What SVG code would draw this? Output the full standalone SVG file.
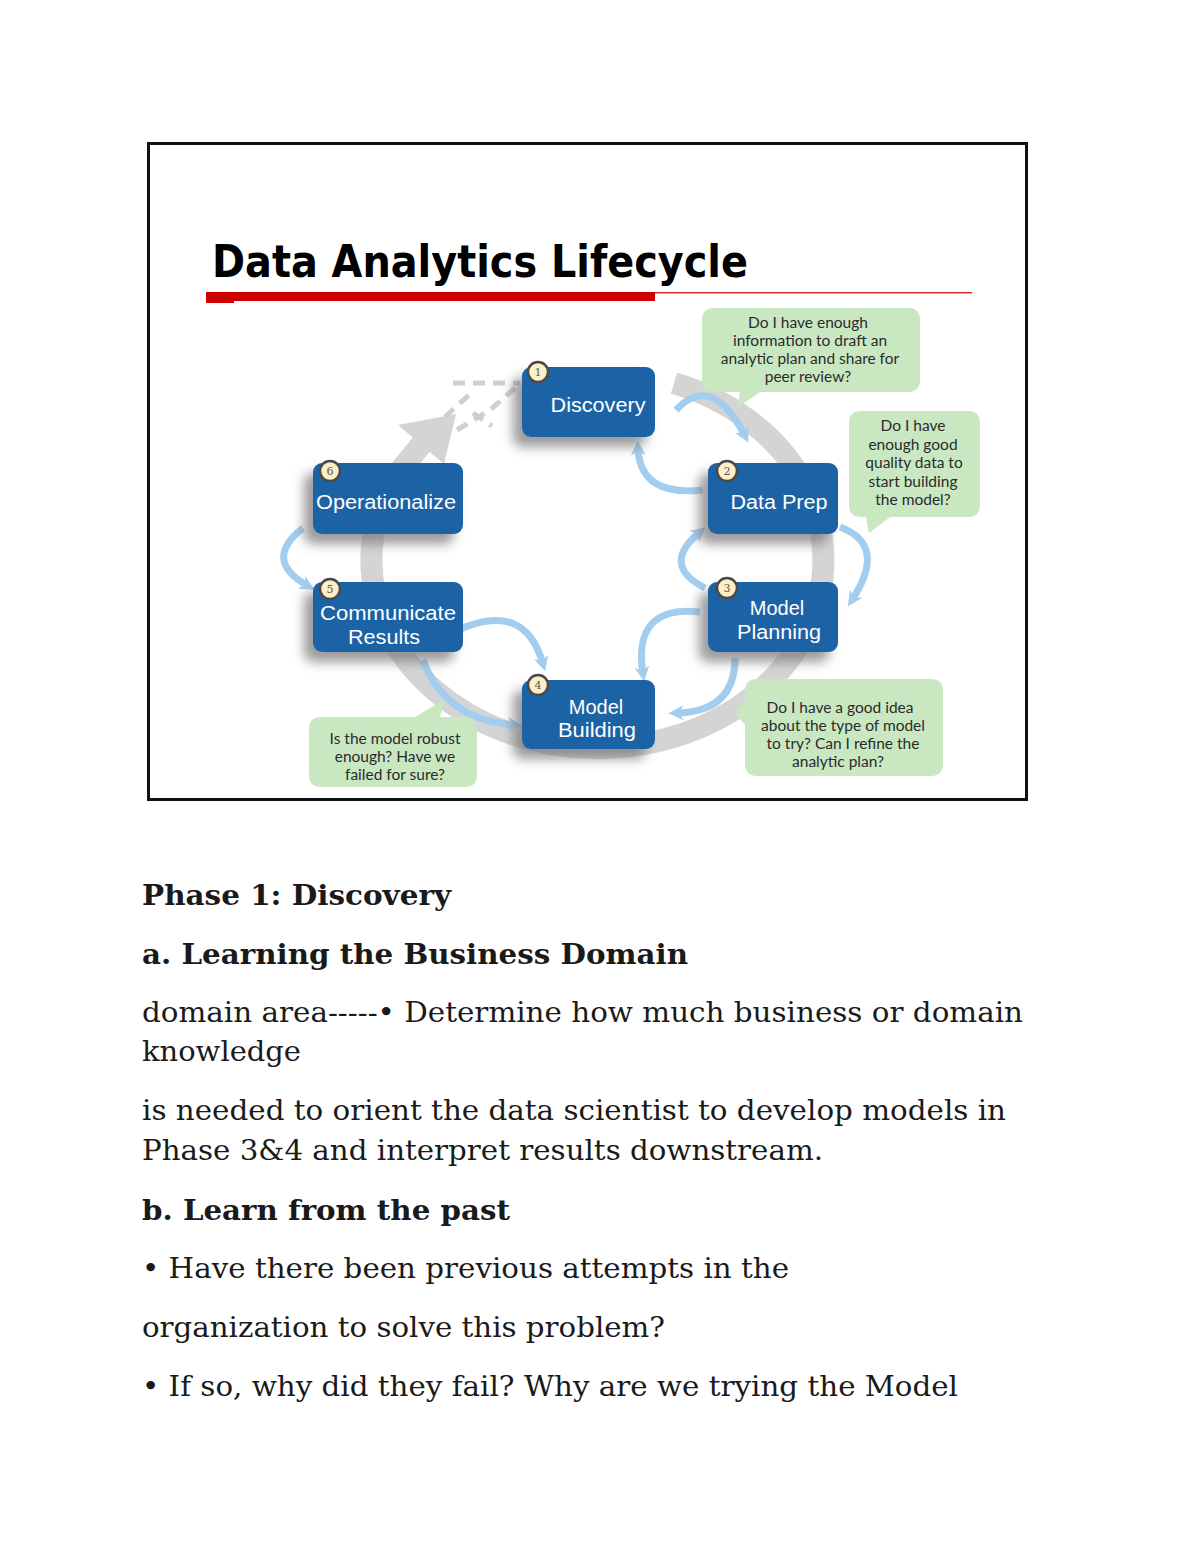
<svg xmlns="http://www.w3.org/2000/svg" width="1200" height="1553" viewBox="0 0 1200 1553">
<defs>
<filter id="sh" x="-30%" y="-30%" width="160%" height="170%">
<feDropShadow dx="-9" dy="10" stdDeviation="6" flood-color="#7a7a7a" flood-opacity="0.75"/>
</filter>
<marker id="bh" viewBox="0 0 10 10" refX="5" refY="5" markerWidth="15" markerHeight="15" markerUnits="userSpaceOnUse" orient="auto">
<path d="M0,0 L10,5 L0,10 L3,5 Z" fill="#a3cdee"/>
</marker>
<style>
.node rect{fill:#1c64a6;}
.lbl{font-family:"Liberation Sans",Arial,sans-serif;font-size:20px;fill:#ffffff;text-anchor:middle;}
.badge circle{fill:#fdefc6;stroke:#4a4a4a;stroke-width:2.5;}
.badge text{font-family:"DejaVu Serif",serif;font-size:11px;fill:#555;text-anchor:middle;}
.call path{fill:#c9e8c2;}
.ct{font-family:Lato,"Open Sans",sans-serif;font-size:15.5px;fill:#2b2b2b;text-anchor:middle;}
.blue{fill:none;stroke:#a3cdee;stroke-width:7;marker-end:url(#bh);}
.ring{fill:none;stroke:#d4d4d4;stroke-width:22;}
.dash{fill:none;stroke:#cfcfcf;stroke-width:5;stroke-dasharray:12 8;}
.body{font-family:"DejaVu Serif","Liberation Serif",serif;font-size:28px;fill:#1a1a1a;}
.bold{font-weight:bold;}
</style>
</defs>
<rect width="1200" height="1553" fill="#ffffff"/>
<rect x="148.5" y="143.5" width="878" height="656" fill="#ffffff" stroke="#111" stroke-width="3"/>
<text x="212" y="277" font-family="DejaVu Sans,Verdana,sans-serif" font-weight="bold" font-size="45" fill="#000" textLength="536" lengthAdjust="spacingAndGlyphs">Data Analytics Lifecycle</text>
<rect x="206" y="292" width="449" height="9" fill="#cc0000"/>
<rect x="206" y="301" width="28" height="2" fill="#cc0000"/>
<rect x="655" y="292" width="317" height="1.5" fill="#d43030"/>

<g id="connectors">
<path class="ring" d="M674,383 A226,188 0 1 1 394,478"/>
<path d="M394,478 L425,440" fill="none" stroke="#d4d4d4" stroke-width="22"/>
<polygon points="398,425 456,414 444,464" fill="#d4d4d4"/>
<path class="dash" d="M453,383 L520,383"/>
<path class="dash" d="M445,417 L470,394"/>
<path class="dash" d="M457,430 L490,410 L515,388"/>
<path class="dash" d="M473,413 L492,426"/>
<path class="blue" d="M676,410 Q712,372 745,436"/>
<path class="blue" d="M703,490 Q640,497 638,448"/>
<path class="blue" d="M840,527 Q888,545 852,600"/>
<path class="blue" d="M705,588 Q660,565 700,532"/>
<path class="blue" d="M735,658 Q735,712 676,713"/>
<path class="blue" d="M700,612 Q632,605 643,674"/>
<path class="blue" d="M458,630 Q525,600 543,664"/>
<path class="blue" d="M423,660 Q445,720 515,725"/>
<path class="blue" d="M303,528 Q262,560 308,586"/>
</g>

<g id="node-discovery" class="node">
<rect x="522" y="367" width="133" height="70" rx="9" filter="url(#sh)"/>
<text class="lbl" x="598" y="412" textLength="95" lengthAdjust="spacingAndGlyphs">Discovery</text>
<g class="badge"><circle cx="538" cy="372" r="10"/><text x="538" y="376">1</text></g>
</g>
<g id="node-dataprep" class="node">
<rect x="708" y="463" width="130" height="71" rx="9" filter="url(#sh)"/>
<text class="lbl" x="779" y="509" textLength="97" lengthAdjust="spacingAndGlyphs">Data Prep</text>
<g class="badge"><circle cx="727" cy="471" r="10"/><text x="727" y="475">2</text></g>
</g>
<g id="node-modelplanning" class="node">
<rect x="708" y="582" width="130" height="70" rx="9" filter="url(#sh)"/>
<text class="lbl" x="777" y="615">Model</text>
<text class="lbl" x="779" y="639" textLength="84" lengthAdjust="spacingAndGlyphs">Planning</text>
<g class="badge"><circle cx="727" cy="588" r="10"/><text x="727" y="592">3</text></g>
</g>
<g id="node-modelbuilding" class="node">
<rect x="522" y="680" width="133" height="69" rx="9" filter="url(#sh)"/>
<text class="lbl" x="596" y="714">Model</text>
<text class="lbl" x="597" y="737" textLength="78" lengthAdjust="spacingAndGlyphs">Building</text>
<g class="badge"><circle cx="538" cy="685" r="10"/><text x="538" y="689">4</text></g>
</g>
<g id="node-communicate" class="node">
<rect x="313" y="582" width="150" height="70" rx="9" filter="url(#sh)"/>
<text class="lbl" x="388" y="620" textLength="136" lengthAdjust="spacingAndGlyphs">Communicate</text>
<text class="lbl" x="384" y="644" textLength="72" lengthAdjust="spacingAndGlyphs">Results</text>
<g class="badge"><circle cx="330" cy="589" r="10"/><text x="330" y="593">5</text></g>
</g>
<g id="node-operationalize" class="node">
<rect x="313" y="463" width="150" height="71" rx="9" filter="url(#sh)"/>
<text class="lbl" x="386" y="509" textLength="140" lengthAdjust="spacingAndGlyphs">Operationalize</text>
<g class="badge"><circle cx="330" cy="471" r="10"/><text x="330" y="475">6</text></g>
</g>

<g id="callout-discovery" class="call">
<path d="M714,308 H908 Q920,308 920,320 V380 Q920,392 908,392 H760 L737,408 L740,392 H714 Q702,392 702,380 V320 Q702,308 714,308 Z"/>
<text class="ct" x="808" y="328">Do I have enough</text>
<text class="ct" x="810" y="346">information to draft an</text>
<text class="ct" x="810" y="364">analytic plan and share for</text>
<text class="ct" x="808" y="382">peer review?</text>
</g>
<g id="callout-dataprep" class="call">
<path d="M861,411 H968 Q980,411 980,423 V505 Q980,517 968,517 H890 L869,533 L866,517 H861 Q849,517 849,505 V423 Q849,411 861,411 Z"/>
<text class="ct" x="913" y="431">Do I have</text>
<text class="ct" x="913" y="450">enough good</text>
<text class="ct" x="914" y="468">quality data to</text>
<text class="ct" x="913" y="487">start building</text>
<text class="ct" x="913" y="505">the model?</text>
</g>
<g id="callout-modelplanning" class="call">
<path d="M757,679 H931 Q943,679 943,691 V764 Q943,776 931,776 H757 Q745,776 745,764 V725 L735,713 L745,700 V691 Q745,679 757,679 Z"/>
<text class="ct" x="840" y="713">Do I have a good idea</text>
<text class="ct" x="843" y="731">about the type of model</text>
<text class="ct" x="843" y="749">to try?  Can I refine the</text>
<text class="ct" x="838" y="767">analytic plan?</text>
</g>
<g id="callout-modelbuilding" class="call">
<path d="M321,717 H415 L445,699 L440,717 H465 Q477,717 477,729 V775 Q477,787 465,787 H321 Q309,787 309,775 V729 Q309,717 321,717 Z"/>
<text class="ct" x="395" y="744">Is the model robust</text>
<text class="ct" x="395" y="762">enough?  Have we</text>
<text class="ct" x="395" y="780">failed for sure?</text>
</g>

<g id="body-text">
<text class="body bold" x="142" y="905" textLength="309" lengthAdjust="spacingAndGlyphs">Phase 1: Discovery</text>
<text class="body bold" x="142" y="964" textLength="546" lengthAdjust="spacingAndGlyphs">a. Learning the Business Domain</text>
<text class="body" x="142" y="1022" textLength="881" lengthAdjust="spacingAndGlyphs">domain area-----• Determine how much business or domain</text>
<text class="body" x="142" y="1061" textLength="159" lengthAdjust="spacingAndGlyphs">knowledge</text>
<text class="body" x="142" y="1120" textLength="864" lengthAdjust="spacingAndGlyphs">is needed to orient the data scientist to develop models in</text>
<text class="body" x="142" y="1160" textLength="681" lengthAdjust="spacingAndGlyphs">Phase 3&amp;4 and interpret results downstream.</text>
<text class="body bold" x="142" y="1220" textLength="368" lengthAdjust="spacingAndGlyphs">b. Learn from the past</text>
<text class="body" x="142" y="1278" textLength="647" lengthAdjust="spacingAndGlyphs">• Have there been previous attempts in the</text>
<text class="body" x="142" y="1337" textLength="523" lengthAdjust="spacingAndGlyphs">organization to solve this problem?</text>
<text class="body" x="142" y="1396" textLength="816" lengthAdjust="spacingAndGlyphs">• If so, why did they fail? Why are we trying the Model</text>
</g>
</svg>
